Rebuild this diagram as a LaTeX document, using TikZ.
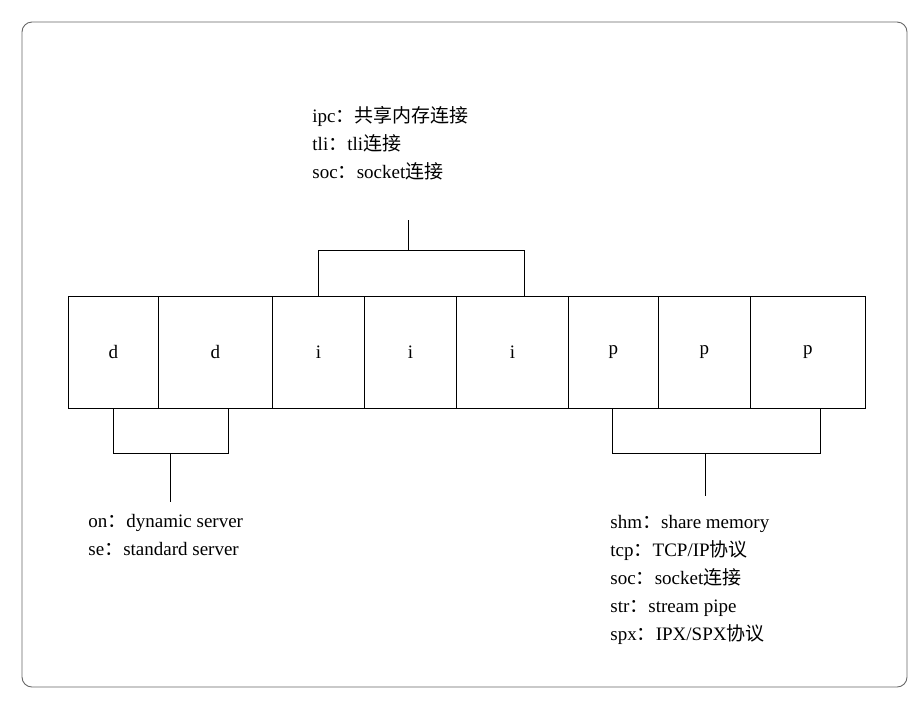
\documentclass[tikz,border=0pt]{standalone}
\usepackage{fontspec}
\setmainfont{Liberation Serif}
\newfontfamily\cjk{Noto Sans CJK SC}
\newcommand{\cc}[1]{{\cjk #1}}
\begin{document}
\begin{tikzpicture}[x=1pt,y=-1pt,line width=0.9pt,
  cell/.style={draw,minimum height=112pt,inner sep=0pt,font=\fontsize{19}{19}\selectfont},
  lbl/.style={anchor=west,align=left,inner sep=0pt,font=\fontsize{19}{28}\selectfont}]
\useasboundingbox (0,0) rectangle (923,724);
\draw[gray!80!black,rounded corners=10pt] (22,22) rectangle (907,687);
\foreach \n/\a/\b/\t in {c1/68/158/d,c2/158/272/d,c3/272/364/i,c4/364/456/i,c5/456/568/i,c6/568/658/p,c7/658/750/p,c8/750/865/p}{
  \node[cell,minimum width={\b-\a},anchor=north west] (\n) at (\a,296) {\t};
}
% top bracket
\coordinate (t1) at (318,296); \coordinate (t2) at (524,296);
\coordinate (ts) at (408,220);
\draw (t1) -- ++(0,-46) -| (t2);
\draw (ts) -- (408,250);
\node[lbl,anchor=north west] (top) at (312,106) {ipc\cc{：共享内存连接}\\tli\cc{：}tli\cc{连接}\\soc\cc{：}socket\cc{连接}};
% bottom left
\coordinate (l1) at (113,408); \coordinate (l2) at (228,408);
\draw (l1) -- ++(0,45) -| (l2);
\coordinate (ls) at (170,502);
\draw (170,453) -- (ls);
\node[lbl,anchor=north west] (bl) at (88,514) {on\cc{：}dynamic server\\se\cc{：}standard server};
% bottom right
\coordinate (r1) at (612,408); \coordinate (r2) at (820,408);
\draw (r1) -- ++(0,45) -| (r2);
\coordinate (rs) at (705,496);
\draw (705,453) -- (rs);
\node[lbl,anchor=north west] (br) at (610,515) {shm\cc{：}share memory\\tcp\cc{：}TCP/IP\cc{协议}\\soc\cc{：}socket\cc{连接}\\str\cc{：}stream pipe\\spx\cc{：}IPX/SPX\cc{协议}};
\end{tikzpicture}
\end{document}
